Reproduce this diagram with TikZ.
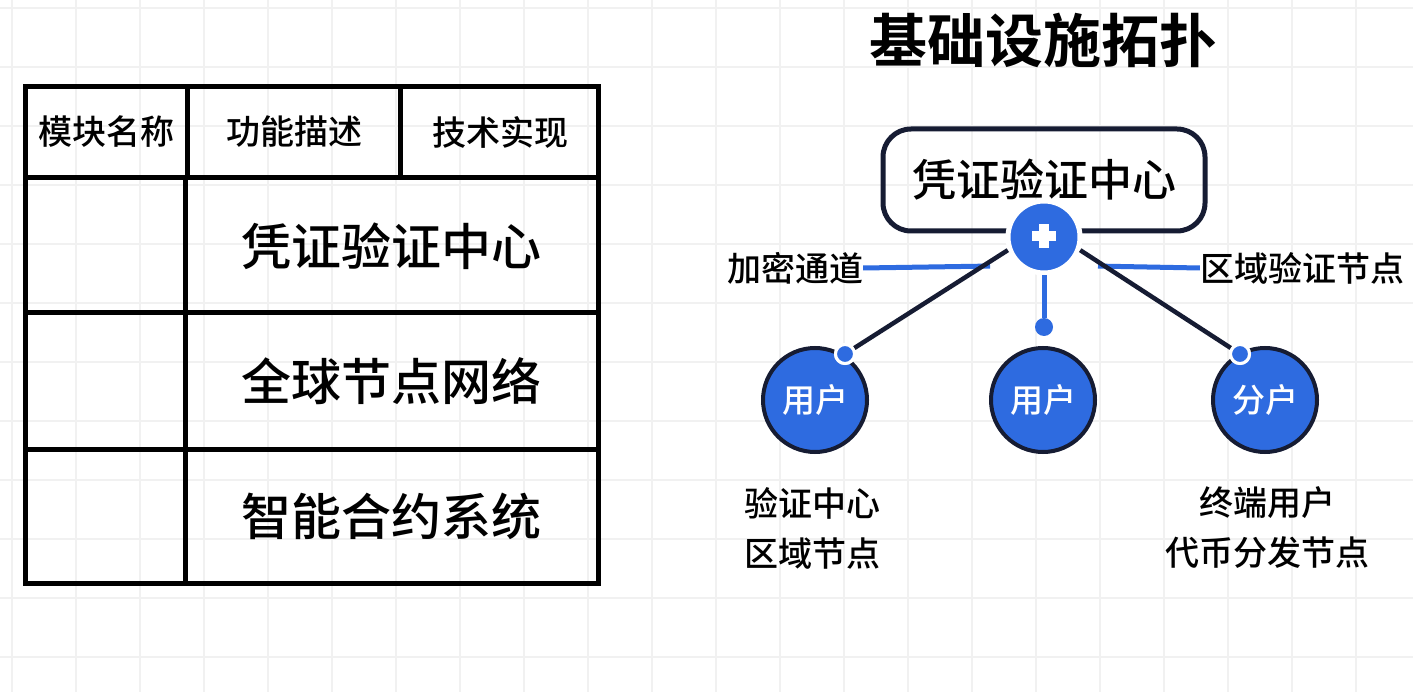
\documentclass[tikz,border=0pt]{standalone}
\usepackage{fontspec}
\setmainfont{Noto Sans CJK SC Medium}[BoldFont={Noto Sans CJK SC Bold}]
\definecolor{navy}{HTML}{161C33}
\definecolor{nodeblue}{HTML}{2E6BE0}
\definecolor{gridc}{HTML}{F1F1F1}
\begin{document}
\begin{tikzpicture}[x=1pt,y=-1pt,
  tbl/.style={line width=5pt, black, line cap=rect},
  fs/.style={font=\fontsize{#1}{#1}\selectfont},
  cell/.style={inner sep=0pt, text=black},
  lbl/.style={inner sep=0pt, text=black, font=\fontsize{34}{50}\selectfont, align=center},
  user/.style={circle, minimum size=104pt, inner sep=0pt, fill=nodeblue, draw=navy, line width=4pt, text=white, font=\fontsize{33}{33}\selectfont},
  dotw/.style={circle, minimum size=19pt, inner sep=0pt, fill=nodeblue, draw=white, line width=3pt},
  dotb/.style={circle, minimum size=18pt, inner sep=0pt, fill=nodeblue},
  diag/.style={navy, line width=4.5pt},
  bline/.style={nodeblue, line width=5pt}
]
\useasboundingbox (0,0) rectangle (1413,692);
\fill[white] (0,0) rectangle (1413,692);
% grid
\foreach \x in {12,76,...,1413} \draw[gridc, line width=1.3pt] (\x,0) -- (\x,692);
\foreach \y in {8,67,...,692} \draw[gridc, line width=1.3pt] (0,\y) -- (1413,\y);

% table
\draw[tbl] (25,87) rectangle (598,583);
\draw[tbl] (25,178) -- (598,178);
\draw[tbl] (25,313) -- (598,313);
\draw[tbl] (25,449) -- (598,449);
\draw[tbl] (187,87) -- (187,178);
\draw[tbl] (400,87) -- (400,178);
\draw[tbl] (185,178) -- (185,583);
\node[cell, fs=34] (h1) at (106,132) {模块名称};
\node[cell, fs=34] (h2) at (294,132) {功能描述};
\node[cell, fs=34] (h3) at (500,132) {技术实现};
\node[cell, fs=50] (r1) at (391,246) {凭证验证中心};
\node[cell, fs=50] (r2) at (391,381) {全球节点网络};
\node[cell, fs=50] (r3) at (391,516) {智能合约系统};

% title
\node[cell, font=\fontsize{58}{58}\selectfont\bfseries] (title) at (1043,40) {基础设施拓扑};

% central box
\node[draw=navy, line width=5pt, rounded corners=28pt, minimum width=322pt, minimum height=102pt, inner sep=0pt, font=\fontsize{44}{44}\selectfont] (center) at (1044,180) {凭证验证中心};

% labels
\node[lbl] (l1) at (795,268) {加密通道};
\node[lbl] (l2) at (1302,268) {区域验证节点};
\coordinate (c1) at (994,266);
\coordinate (c2) at (1094,266);

% users
\node[user] (u1) at (815,400) {用户};
\node[user] (u2) at (1043,400) {用户};
\node[user] (u3) at (1265,400) {分户};

% hub
\node[circle, minimum size=72pt, inner sep=0pt, fill=nodeblue, draw=white, line width=5pt] (hub) at (1044,237) {};
\fill[white] (1039,224) rectangle (1049,248);
\fill[white] (1032,231) rectangle (1056,241);

% connectors
\draw[bline, shorten >=4pt] (l1.east) -- (c1);
\draw[bline, shorten >=4pt] (l2.west) -- (c2);
\node[dotw] (d1) at (845,354) {};
\node[dotw] (d3) at (1240,354) {};
\node[dotb] (d2) at (1044,327) {};
\draw[diag] (hub.200) -- (d1);
\draw[diag] (hub.-20) -- (d3);
\draw[bline] (hub.south) -- (d2);
\node[dotw] at (d1) {};
\node[dotw] at (d3) {};

% bottom labels
\node[lbl] (b1) at (812,528) {验证中心\\区域节点};
\node[lbl] (b3) at (1267,528) {终端用户\\代币分发节点};
\end{tikzpicture}
\end{document}
